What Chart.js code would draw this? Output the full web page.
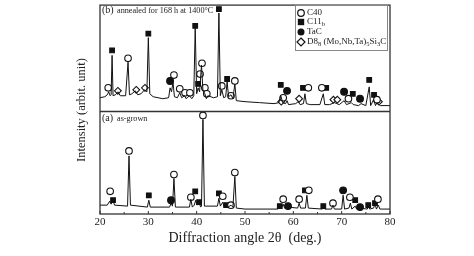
<!DOCTYPE html>
<html>
<head>
<meta charset="utf-8">
<script src="https://cdn.jsdelivr.net/npm/chart.js@4.4.0/dist/chart.umd.min.js"></script>
<style>
  html, body { margin: 0; padding: 0; background: #fff; }
  #wrap { width: 474px; height: 256px; }
</style>
</head>
<body>
<div id="wrap"><canvas id="xrd" width="474" height="256"></canvas></div>
<script>
// (b) annealed pattern, [2theta, intensity]
var annealed = [
  [20, 118], [21, 119], [21.5, 121], [21.8, 124], [22.1, 120], [22.3, 121], [22.5, 161], [22.7, 120],
  [23.2, 121], [23.7, 124], [24.2, 120], [25.3, 120], [25.8, 154], [26.1, 121], [26.6, 122], [27.3, 125],
  [27.8, 121], [28.5, 122], [29.2, 126], [29.7, 124], [30.0, 179], [30.3, 122], [31, 119], [33, 117],
  [34.2, 118], [34.5, 128], [34.8, 124], [35.1, 134], [35.4, 119], [36, 118], [36.5, 123], [36.9, 118],
  [37.5, 120], [37.8, 117], [38.5, 120], [39.0, 117], [39.4, 120], [39.7, 189], [40.0, 122], [40.3, 128],
  [40.6, 124], [41.0, 151], [41.3, 125], [41.7, 122], [42.0, 117], [42.3, 120], [43.5, 118], [44.3, 119],
  [44.6, 204], [44.9, 120], [45.2, 126], [45.6, 118], [46.0, 119], [46.3, 134], [46.6, 119], [47.1, 121],
  [47.5, 117], [47.9, 132], [48.2, 115], [50, 114], [53, 113], [56, 112], [57.0, 113], [57.4, 120],
  [57.8, 113], [58.4, 112], [58.7, 115], [59.0, 111], [60.5, 112], [61.0, 114], [61.4, 111], [62.1, 112],
  [62.4, 122], [62.7, 112], [63.5, 111], [65.5, 111], [66.2, 122], [66.5, 111], [67.5, 111], [68.5, 113],
  [69.0, 112], [69.5, 111], [70.5, 115], [71.0, 111], [72.0, 113], [72.4, 111], [73.5, 110], [74.0, 112],
  [75.0, 110], [75.7, 129], [76.0, 110], [76.6, 116], [77.0, 110], [77.3, 113], [78, 110], [80, 110]
];

// (a) as-grown pattern
var asGrown = [
  [20, 9], [21.5, 9], [22.0, 13], [22.3, 10], [22.7, 14], [23.0, 9], [25.7, 8], [26.0, 59], [26.3, 9],
  [29.8, 7], [30.1, 14], [30.4, 7], [34.4, 7], [34.7, 11], [35.0, 8], [35.3, 36], [35.6, 7], [38.5, 7],
  [38.8, 15], [39.1, 7], [39.5, 9], [39.8, 14], [40.1, 9], [40.5, 13], [40.8, 7], [41.0, 8], [41.3, 96],
  [41.6, 8], [44.3, 8], [44.6, 16], [44.9, 8], [45.4, 12], [45.7, 7], [46.1, 9], [46.5, 7], [47.1, 9],
  [47.5, 7], [47.9, 38], [48.2, 6], [50, 5], [56.8, 5], [57.2, 8], [57.5, 6], [57.9, 10], [58.2, 6],
  [58.9, 7], [60.9, 6], [61.2, 11], [61.5, 6], [62.5, 6], [62.8, 19], [63.1, 6], [66.0, 5], [66.2, 7],
  [66.5, 5], [67.9, 5], [68.2, 9], [68.5, 5], [70.0, 5], [70.3, 19], [70.6, 5], [71.5, 6], [71.8, 11],
  [72.1, 5], [72.8, 8], [73.1, 5], [73.8, 6], [75.3, 5], [75.5, 8], [75.8, 5], [76.6, 6], [76.9, 10],
  [77.2, 5], [77.6, 9], [77.9, 5], [80, 5]
];

// phase markers
var c40 = [
  [21.7, 128], [25.8, 158], [35.3, 141], [36.5, 127], [37.6, 123], [38.6, 123], [40.7, 142], [41.1, 153],
  [41.7, 128], [42.1, 122], [45.2, 130], [47.1, 120], [47.9, 135], [57.9, 118], [63.1, 128], [65.9, 128],
  [71.4, 117], [77.3, 116],
  [22.1, 23], [26.0, 64], [35.3, 40], [38.8, 17], [41.3, 100], [45.4, 18], [47.1, 9], [47.9, 42],
  [57.9, 15], [61.2, 15], [63.2, 24], [68.2, 11], [71.7, 17], [77.5, 15]
];
var c11b = [
  [22.5, 166], [30.0, 183], [39.7, 191], [40.3, 132], [44.6, 208], [46.3, 137], [57.4, 131], [62.0, 128],
  [66.8, 128], [72.3, 122], [75.7, 136], [76.7, 121],
  [22.7, 14], [30.1, 19], [39.7, 23], [40.5, 12], [44.6, 21], [46.1, 9], [57.2, 8], [62.4, 24],
  [66.2, 8], [72.8, 14], [75.5, 9], [76.9, 11]
];
var tac = [
  [34.5, 135], [58.7, 125], [70.5, 124], [73.8, 117],
  [34.7, 14], [58.9, 8], [70.3, 24], [73.8, 7]
];
var d88 = [
  [23.7, 125], [27.5, 126], [29.3, 128], [57.5, 114], [61.2, 117], [68.3, 116], [69.1, 116], [77.7, 114]
];
var divider = [[20, 104], [80, 104]];

function pts(arr) {
  return arr.map(function (p) { return { x: p[0], y: p[1] }; });
}

var serif = '"Liberation Serif", "DejaVu Serif", serif';

function sub(ctx, parts, x, y, size) {
  // parts: [text, isSub]
  parts.forEach(function (p) {
    ctx.font = (p[1] ? size * 0.72 : size) + 'px ' + serif;
    ctx.fillText(p[0], x, p[1] ? y + size * 0.3 : y);
    x += ctx.measureText(p[0]).width;
  });
}

var decor = {
  id: 'decor',
  afterDraw: function (chart) {
    var ctx = chart.ctx, a = chart.chartArea, xs = chart.scales.x;
    ctx.save();
    // frame
    ctx.strokeStyle = '#333';
    ctx.lineWidth = 1.3;
    ctx.strokeRect(a.left, a.top, a.right - a.left, a.bottom - a.top);
    // inward ticks
    ctx.lineWidth = 1;
    for (var t = 20; t <= 80; t += 5) {
      var px = xs.getPixelForValue(t);
      ctx.beginPath();
      ctx.moveTo(px, a.bottom);
      ctx.lineTo(px, a.bottom - (t % 10 === 0 ? 3 : 2));
      ctx.stroke();
    }
    ctx.fillStyle = '#222';
    ctx.textBaseline = 'middle';
    ctx.textAlign = 'left';
    ctx.font = '10px ' + serif;
    ctx.fillText('(b)', a.left + 2, 10);
    ctx.fillText('(a)', a.left + 2, 118);
    ctx.font = '8.2px ' + serif;
    ctx.fillText('annealed for 168 h at 1400\u00B0C', a.left + 17, 10.5);
    ctx.fillText('as-grown', a.left + 17, 118.5);

    // legend
    ctx.strokeStyle = '#888';
    ctx.lineWidth = 1;
    ctx.strokeRect(295.5, 5.5, 92, 45);
    var lx = 301, ly = [13, 22, 32, 42];
    ctx.strokeStyle = '#111';
    ctx.lineWidth = 1.2;
    ctx.fillStyle = '#fff';
    ctx.beginPath(); ctx.arc(lx, ly[0], 3.3, 0, Math.PI * 2); ctx.fill(); ctx.stroke();
    ctx.fillStyle = '#111';
    ctx.fillRect(lx - 3.2, ly[1] - 3.2, 6.4, 6.4);
    ctx.beginPath(); ctx.arc(lx, ly[2], 3.5, 0, Math.PI * 2); ctx.fill();
    ctx.fillStyle = '#fff';
    ctx.beginPath();
    ctx.moveTo(lx, ly[3] - 4); ctx.lineTo(lx + 4, ly[3]); ctx.lineTo(lx, ly[3] + 4); ctx.lineTo(lx - 4, ly[3]);
    ctx.closePath(); ctx.fill(); ctx.stroke();
    ctx.fillStyle = '#222';
    var tx = 307;
    sub(ctx, [['C40', false]], tx, ly[0], 9);
    sub(ctx, [['C11', false], ['b', true]], tx, ly[1], 9);
    sub(ctx, [['TaC', false]], tx, ly[2], 9);
    sub(ctx, [['D8', false], ['8', true], [' (Mo,Nb,Ta)', false], ['5', true], ['Si', false], ['3', true], ['C', false]], tx, ly[3], 9);

    // y title
    ctx.translate(82, 110);
    ctx.rotate(-Math.PI / 2);
    ctx.textAlign = 'center';
    ctx.font = '12.5px ' + serif;
    ctx.fillText('Intensity (arbit. unit)', 0, 0);
    ctx.restore();
  }
};

function markers(arr, style, fill, r) {
  return {
    type: 'scatter',
    data: pts(arr),
    showLine: false,
    pointStyle: style,
    pointRadius: r,
    pointBackgroundColor: fill,
    pointBorderColor: '#111',
    pointBorderWidth: 1.1
  };
}

new Chart(document.getElementById('xrd'), {
  type: 'line',
  data: {
    datasets: [
      { data: pts(annealed), borderColor: '#111', borderWidth: 1, pointRadius: 0, tension: 0 },
      { data: pts(asGrown), borderColor: '#111', borderWidth: 1, pointRadius: 0, tension: 0 },
      { data: pts(divider), borderColor: '#333', borderWidth: 1.3, pointRadius: 0 },
      markers(c40, 'circle', '#fff', 3.3),
      markers(c11b, 'rect', '#111', 3.3),
      markers(tac, 'circle', '#111', 3.4),
      markers(d88, 'rectRot', '#fff', 3.4)
    ]
  },
  options: {
    responsive: false,
    animation: false,
    events: [],
    layout: { padding: { left: 100, right: 84, top: 2, bottom: 0 } },
    plugins: { legend: { display: false }, tooltip: { enabled: false } },
    scales: {
      x: {
        type: 'linear',
        min: 20,
        max: 80,
        grid: { display: false, drawTicks: false },
        border: { display: false },
        ticks: {
          stepSize: 10,
          padding: 2,
          color: '#222',
          font: { family: serif, size: 11 }
        },
        title: {
          display: true,
          text: 'Diffraction angle 2\u03B8  (deg.)',
          color: '#222',
          font: { family: serif, size: 14 },
          padding: { top: 0, bottom: 9 }
        },
        afterFit: function (s) { s.height = 42; }
      },
      y: {
        display: false,
        min: 0,
        max: 212
      }
    }
  },
  plugins: [decor]
});
</script>
</body>
</html>
